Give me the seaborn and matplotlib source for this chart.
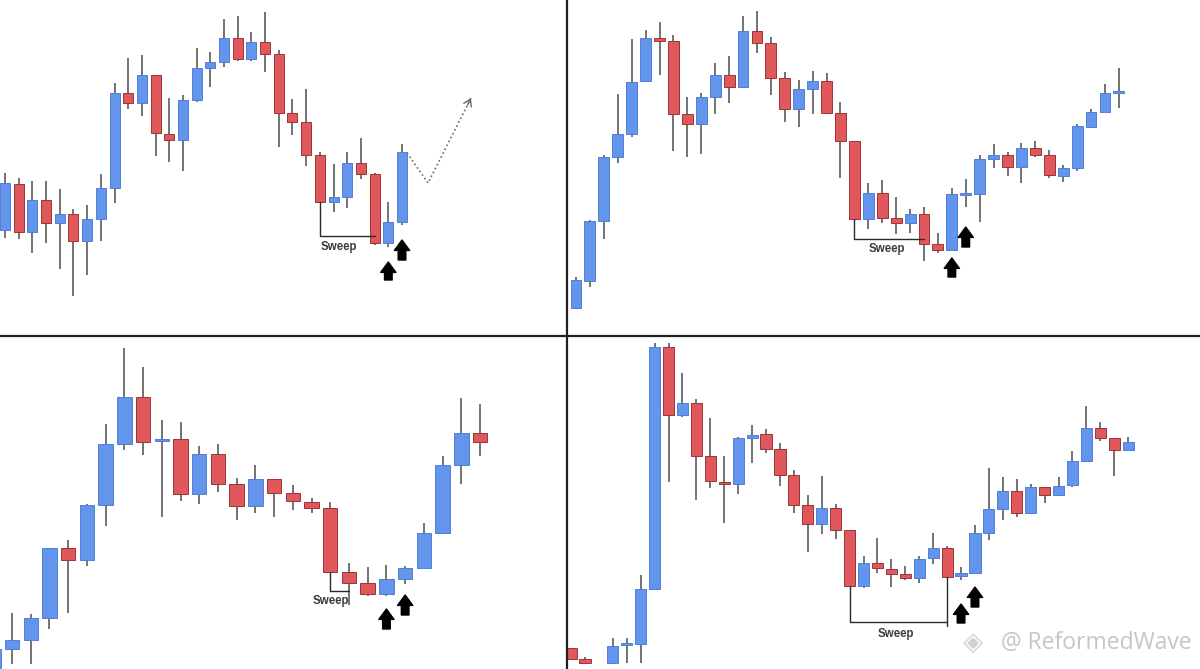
import numpy as np
import matplotlib
matplotlib.use("Agg")
import matplotlib.pyplot as plt
from matplotlib.lines import Line2D
import seaborn as sns

sns.set_theme(style="white")
plt.rcParams['font.family'] = ['Liberation Sans', 'DejaVu Sans']

UP = "#6495ED"
UP_EDGE = "#4f7fd8"
DOWN = "#E0575C"
DOWN_EDGE = "#9a3437"
WICK = "#4d4d4d"

# ---- top-left panel (chart units) ----
tl_open = [105, 151, 103, 135, 112, 121, 94, 116, 147, 242, 232, 260, 201, 195, 235,
           267, 273, 297, 276, 293, 281, 222, 213, 180, 133, 138, 172, 161, 92, 113]
tl_high = [162, 157, 154, 154, 146, 126, 130, 161, 252, 277, 280, 260, 237, 240, 287,
           283, 316, 319, 303, 323, 285, 236, 246, 183, 171, 183, 197, 162, 133, 191]
tl_low = [97, 96, 82, 92, 66, 39, 60, 94, 132, 226, 219, 179, 173, 164, 233,
          248, 268, 274, 274, 263, 188, 200, 169, 133, 123, 127, 156, 90, 88, 110]
tl_close = [152, 103, 135, 112, 121, 94, 116, 147, 242, 232, 260, 202, 195, 235, 267,
            273, 297, 276, 293, 281, 222, 213, 180, 133, 138, 172, 161, 92, 113, 183]

# ---- top-right panel ----
tr_open = [27, 54, 114, 178, 201, 254, 297, 294, 221, 211, 238, 260, 248, 304, 292,
           257, 226, 246, 254, 222, 194, 116, 142, 117, 112, 121, 91, 85, 140, 141,
           176, 180, 168, 187, 180, 159, 167, 208, 223, 242]
tr_high = [58, 115, 180, 241, 296, 305, 313, 300, 238, 242, 272, 279, 319, 324, 298,
           263, 255, 264, 262, 233, 194, 152, 155, 138, 126, 128, 102, 147, 156, 180,
           191, 183, 192, 194, 185, 170, 211, 226, 251, 267]
tr_low = [27, 48, 96, 172, 198, 254, 260, 184, 178, 181, 221, 232, 247, 282, 240,
          213, 208, 221, 222, 157, 116, 106, 112, 101, 102, 74, 82, 85, 128, 113,
          167, 159, 152, 178, 157, 153, 164, 207, 223, 227]
tr_close = [55, 114, 178, 201, 253, 297, 294, 221, 211, 238, 260, 248, 304, 292, 257,
            226, 246, 254, 222, 194, 116, 142, 117, 112, 121, 91, 85, 141, 142, 176,
            180, 168, 187, 180, 160, 167, 209, 223, 242, 243]

# ---- bottom-left panel ----
bl_open = [-5, 20, 29, 51, 121, 109, 164, 225, 272, 228, 230, 175, 215, 185, 163,
           190, 176, 167, 161, 97, 86, 75, 90, 101, 136, 204, 236]
bl_high = [20, 56, 55, 121, 129, 165, 245, 321, 302, 249, 247, 223, 225, 191, 204,
           190, 184, 171, 167, 106, 102, 104, 103, 146, 213, 271, 265]
bl_low = [-5, 5, 5, 40, 56, 103, 143, 219, 214, 152, 168, 165, 177, 149, 156,
          152, 159, 156, 97, 64, 73, 73, 85, 101, 136, 185, 213]
bl_close = [20, 29, 51, 121, 109, 164, 225, 272, 227, 230, 175, 215, 185, 163, 190,
            176, 168, 161, 97, 86, 75, 90, 101, 136, 204, 236, 227]

# ---- bottom-right panel (nan = candle outside the view) ----
nan = np.nan
br_open = [21, 10, nan, 6, 24, 25, 80, 322, 254, 266, 213, 187, 185, 231, 235,
           220, 194, 164, 145, 161, 139, 83, 106, 100, 95, 91, 111, 121, 93, 96,
           136, 160, 178, 156, 182, 174, 184, 208, 241, 231, 219]
br_high = [21, 12, nan, 31, 31, 94, 326, 326, 296, 270, 251, 213, 232, 244, 240,
           226, 199, 174, 193, 165, 139, 113, 131, 110, 103, 113, 136, 123, 102, 144,
           201, 192, 190, 185, 182, 192, 218, 263, 247, 231, 232]
br_low = [10, 6, nan, 6, 6, 6, 80, 187, 252, 169, 181, 146, 175, 206, 216,
          183, 156, 117, 135, 130, 83, 81, 96, 82, 89, 86, 105, 92, 89, 96,
          129, 149, 152, 156, 166, 174, 182, 207, 228, 193, 218]
br_close = [10, 6, nan, 23, 25, 80, 322, 254, 266, 213, 188, 185, 231, 234, 220,
            194, 164, 145, 161, 139, 83, 106, 101, 95, 91, 110, 121, 92, 96, 136,
            160, 178, 156, 182, 174, 183, 208, 241, 231, 219, 227]

# annotations: sweep lines, label spot, arrows (index, tail, tip)
tl_sweep = [([23, 23, 27], [133, 99, 99])]
tl_label = (24.4, 88)
tl_arrows = [(28, 55, 73), (29, 75, 95)]
tl_path_x = [29.37, 30.9, 34.04]
tl_path_y = [182, 152, 237]

tr_sweep = [([20, 20, 25], [116, 96, 96])]
tr_label = (22.34, 86)
tr_arrows = [(27, 58, 77), (28, 88, 108)]

bl_sweep = [([18, 18, 19], [97, 78, 78])]
bl_label = (18.04, 68)
bl_arrows = [(21, 40, 60), (22, 54, 74)]

br_sweep = [([20, 20, 27], [83, 47, 47]), ([27, 27], [92, 43])]
br_label = (23.3, 35)
br_arrows = [(28, 46, 65), (29, 62, 82)]

W, H = 1200, 669
fig = plt.figure(figsize=(12, 6.69), dpi=100)


def make_ax(px_l, px_t, px_r, px_b, x0, dx):
    ax = fig.add_axes([px_l / W, 1 - px_b / H, (px_r - px_l) / W, (px_b - px_t) / H])
    ax.set_xlim((px_l - x0) / dx, (px_r - x0) / dx)
    ax.set_ylim(0, px_b - px_t)
    ax.set_axis_off()
    return ax


def candles(ax, o, h, l, c, width):
    o, h, l, c = (np.array(a, dtype=float) for a in (o, h, l, c))
    idx = np.arange(len(o))
    ok = ~np.isnan(o)
    idx, o, h, l, c = idx[ok], o[ok], h[ok], l[ok], c[ok]
    ax.vlines(idx, l, h, color=WICK, lw=1.1, zorder=1)
    up = c >= o
    bottom = np.minimum(o, c)
    height = np.maximum(np.abs(c - o), 2)
    ax.bar(idx[up], height[up], width, bottom=bottom[up], color=UP,
           edgecolor=UP_EDGE, linewidth=0.7, zorder=2)
    ax.bar(idx[~up], height[~up], width, bottom=bottom[~up], color=DOWN,
           edgecolor=DOWN_EDGE, linewidth=0.7, zorder=2)


def extras(ax, sweep, label, arrows):
    for xs, ys in sweep:
        ax.plot(xs, ys, color="#2a2a2a", lw=1.0, zorder=3)
    ax.text(label[0], label[1], "Sweep", ha="center", va="center",
            fontsize=8.3, fontweight="bold", color="#3a3a3a")
    for x, tail, tip in arrows:
        ax.annotate("", xy=(x, tip), xytext=(x, tail),
                    arrowprops=dict(arrowstyle="simple,head_width=1.1,head_length=0.75,tail_width=0.55",
                                    fc="black", ec="black", shrinkA=0, shrinkB=0,
                                    mutation_scale=10))


ax_tl = make_ax(0, 0, 566, 335, 5, 13.69)
candles(ax_tl, tl_open, tl_high, tl_low, tl_close, 0.73)
extras(ax_tl, tl_sweep, tl_label, tl_arrows)
ax_tl.plot(tl_path_x, tl_path_y, color="#6a6a6a", lw=1.2, linestyle=(0, (1, 1.6)))
ax_tl.annotate("", xy=(tl_path_x[-1], tl_path_y[-1]),
               xytext=(tl_path_x[-1] - 0.25, tl_path_y[-1] - 7),
               arrowprops=dict(arrowstyle="->,head_width=0.25,head_length=0.4",
                               color="#6a6a6a", lw=1.0, shrinkA=0, shrinkB=0))

ax_tr = make_ax(568, 0, 1200, 335, 576, 13.92)
candles(ax_tr, tr_open, tr_high, tr_low, tr_close, 0.78)
extras(ax_tr, tr_sweep, tr_label, tr_arrows)

ax_bl = make_ax(0, 337, 566, 669, -6.7, 18.72)
candles(ax_bl, bl_open, bl_high, bl_low, bl_close, 0.77)
extras(ax_bl, bl_sweep, bl_label, bl_arrows)

ax_br = make_ax(568, 337, 1200, 669, 571, 13.93)
candles(ax_br, br_open, br_high, br_low, br_close, 0.8)
extras(ax_br, br_sweep, br_label, br_arrows)

# panel dividers
fig.add_artist(Line2D([567 / W, 567 / W], [0, 1], color="#1f1f1f", lw=1.6))
fig.add_artist(Line2D([0, 1], [1 - 336 / H, 1 - 336 / H], color="#1f1f1f", lw=1.6))

# watermark
fig.text(973 / W, 1 - 643 / H, "◈", family="DejaVu Sans", fontsize=19,
         color="#d2d2d2", ha="center", va="center")
fig.text(1192 / W, 1 - 643 / H, "@ ReformedWave", family="Open Sans", fontsize=16.5,
         color="#c6c6c6", ha="right", va="center")

fig.savefig("out.png", dpi=100)
